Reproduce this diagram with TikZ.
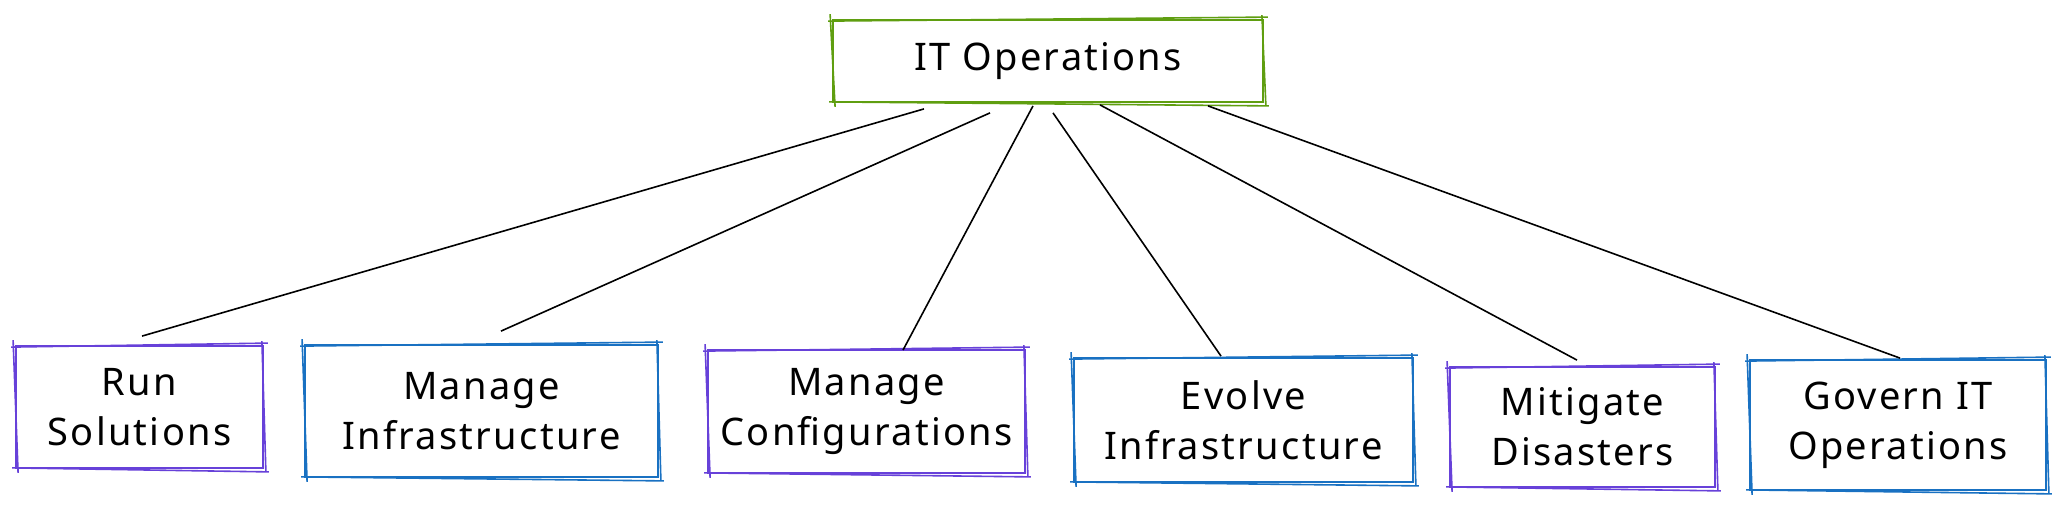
\documentclass[tikz,border=0pt]{standalone}
\usepackage{fontspec}
\setmainfont{Noto Sans}[LetterSpace=6]
\usetikzlibrary{calc}
\definecolor{cgreen}{HTML}{5F9E10}
\definecolor{cviolet}{HTML}{6741D9}
\definecolor{cblue}{HTML}{1971C2}
\tikzset{
  box/.style={draw=#1, line width=0.9pt, align=center, inner sep=0pt,
    font=\fontsize{19pt}{25pt}\selectfont},
  conn/.style={draw=black, line width=0.8pt},
  sk/.style={draw=#1, line width=0.8pt}
}
\newcommand\skbox[2]{%
  \draw[sk=#2] ([shift={(-4,2)}]#1.north west) -- ([shift={(4,-2)}]#1.north east);
  \draw[sk=#2] ([shift={(-2,-4)}]#1.north east) -- ([shift={(2,3)}]#1.south east);
  \draw[sk=#2] ([shift={(5,3)}]#1.south east) -- ([shift={(-3,-1)}]#1.south west);
  \draw[sk=#2] ([shift={(3,4)}]#1.south west) -- ([shift={(-2,-5)}]#1.north west);
}
\begin{document}
\begin{tikzpicture}[x=0.5pt,y=-0.5pt]
\useasboundingbox[fill=white] (0,0) rectangle (2058,508);

\node[box=cgreen, minimum width=215pt, minimum height=41pt] (top) at (1048,61) {IT Operations};

\node[box=cviolet, minimum width=123.5pt, minimum height=61pt] (run) at (139.5,407) {Run\\Solutions};
\node[box=cblue, minimum width=176.5pt, minimum height=66pt] (mi) at (481.5,411) {Manage\\Infrastructure};
\node[box=cviolet, minimum width=158.5pt, minimum height=61.5pt] (mc) at (866.5,411.5) {Manage\\Configurations};
\node[box=cblue, minimum width=169.5pt, minimum height=62pt] (ei) at (1243.5,420) {Evolve\\Infrastructure};
\node[box=cviolet, minimum width=132.5pt, minimum height=60pt] (md) at (1582.5,427) {Mitigate\\Disasters};
\node[box=cblue, minimum width=148pt, minimum height=65pt] (gov) at (1898,425) {Govern IT\\Operations};

\skbox{top}{cgreen}
\skbox{run}{cviolet}
\skbox{mi}{cblue}
\skbox{mc}{cviolet}
\skbox{ei}{cblue}
\skbox{md}{cviolet}
\skbox{gov}{cblue}

\draw[conn] ($(top.south)+(-124,6)$) -- ($(run.north)+(2.5,-9)$);
\draw[conn] ($(top.south)+(-58,10)$) -- ($(mi.north)+(19.5,-13)$);
\draw[conn] ($(top.south)+(-15,3)$) -- ($(mc.north)+(36.5,1)$);
\draw[conn] ($(top.south)+(5,10)$) -- ($(ei.north)+(-22.5,-1)$);
\draw[conn] ($(top.south)+(52,2)$) -- ($(md.north)+(-5.5,-6)$);
\draw[conn] ($(top.south)+(160,3)$) -- ($(gov.north)+(2,-1)$);
\end{tikzpicture}
\end{document}
